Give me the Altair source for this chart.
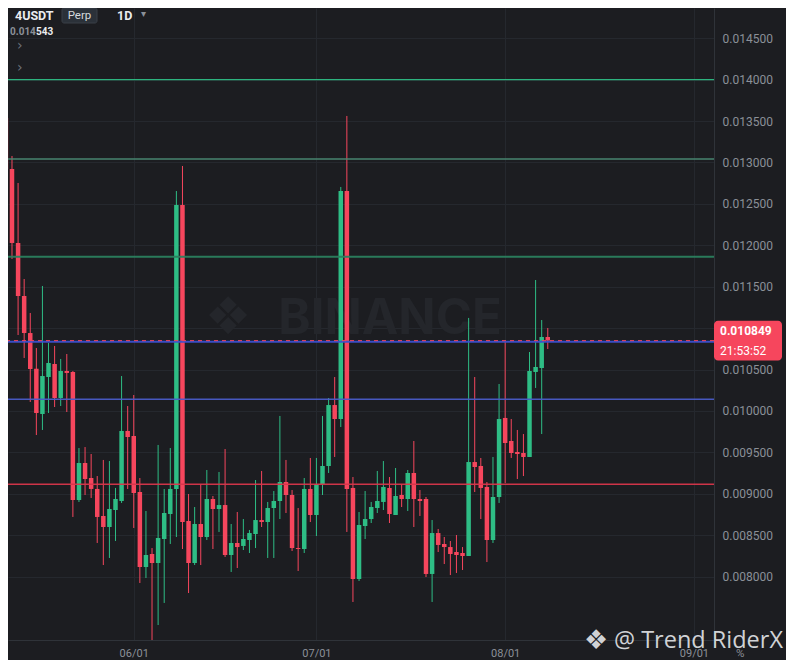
import altair as alt
import pandas as pd

# ---------------- data ----------------
dates = pd.date_range("2025-05-11", "2025-08-08", freq="D").strftime("%Y-%m-%d").tolist()

opens = [0.013537, 0.012921, 0.012028, 0.011388, 0.010941, 0.010510, 0.009964, 0.010410, 0.010567, 0.010157,
         0.010483, 0.010471, 0.008926, 0.009372, 0.009191, 0.009059, 0.008733, 0.008600, 0.008805, 0.008914,
         0.009759, 0.009698, 0.009022, 0.008117, 0.008274, 0.008165, 0.008455, 0.008757, 0.009059, 0.012486,
         0.008672, 0.008165, 0.008636, 0.008479, 0.008938, 0.008817, 0.008865, 0.008262, 0.008407, 0.008371,
         0.008443, 0.008515, 0.008684, 0.008660, 0.008829, 0.008914, 0.009143, 0.008986, 0.008346, 0.008334,
         0.009059, 0.008745, 0.009119, 0.009336, 0.010072, 0.009903, 0.012655, 0.009071, 0.007972, 0.008612,
         0.008696, 0.008829, 0.008902, 0.009071, 0.008745, 0.008986, 0.008938, 0.009252, 0.008938, 0.008938,
         0.008033, 0.008527, 0.008395, 0.008358, 0.008298, 0.008286, 0.008250, 0.009384, 0.009336, 0.009083,
         0.008443, 0.008962, 0.009916, 0.009638, 0.009505, 0.009493, 0.009445, 0.010471, 0.010519, 0.010893]

highs = [0.014031, 0.013078, 0.012752, 0.011593, 0.011183, 0.010760, 0.011509, 0.010821, 0.010785, 0.010628,
         0.010688, 0.010483, 0.009553, 0.009565, 0.009481, 0.009215, 0.009409, 0.009396, 0.009071, 0.010422,
         0.010060, 0.010193, 0.009191, 0.008793, 0.008346, 0.009590, 0.009059, 0.009553, 0.012655, 0.012957,
         0.008998, 0.008841, 0.009119, 0.009288, 0.008974, 0.009264, 0.009541, 0.008636, 0.008781, 0.008696,
         0.008564, 0.009167, 0.009276, 0.008902, 0.009034, 0.009940, 0.009409, 0.009046, 0.008829, 0.009191,
         0.009433, 0.009433, 0.009940, 0.010157, 0.010410, 0.012704, 0.013561, 0.009203, 0.008781, 0.009034,
         0.008902, 0.009276, 0.009396, 0.009203, 0.009312, 0.009119, 0.009288, 0.009638, 0.009046, 0.008962,
         0.008684, 0.008576, 0.008479, 0.008431, 0.008503, 0.008358, 0.011123, 0.010410, 0.009433, 0.009143,
         0.009445, 0.010326, 0.010833, 0.009903, 0.009771, 0.009722, 0.010712, 0.011581, 0.011098, 0.011002]

lows = [0.012402, 0.011835, 0.010917, 0.010640, 0.010109, 0.009710, 0.009771, 0.009976, 0.010048, 0.010060,
        0.009988, 0.008721, 0.008902, 0.008986, 0.008950, 0.008407, 0.008141, 0.008226, 0.008431, 0.008890,
        0.009059, 0.008588, 0.007924, 0.007984, 0.007115, 0.007417, 0.007683, 0.008395, 0.008479, 0.008334,
        0.007803, 0.008141, 0.008141, 0.008443, 0.008334, 0.008540, 0.008238, 0.008057, 0.008105, 0.008322,
        0.008286, 0.008346, 0.008600, 0.008226, 0.008226, 0.008696, 0.008769, 0.008310, 0.008069, 0.008286,
        0.008660, 0.008491, 0.008986, 0.009252, 0.009445, 0.009807, 0.008540, 0.007695, 0.007948, 0.008455,
        0.008648, 0.008769, 0.008805, 0.008648, 0.008745, 0.008841, 0.008793, 0.008600, 0.008733, 0.007996,
        0.007695, 0.008298, 0.008153, 0.008020, 0.008045, 0.008081, 0.008250, 0.009022, 0.008696, 0.008177,
        0.008407, 0.008890, 0.009131, 0.009433, 0.009179, 0.009215, 0.009445, 0.010278, 0.009722, 0.010748]

closes = [0.012921, 0.012028, 0.011388, 0.010941, 0.010507, 0.009976, 0.010422, 0.010579, 0.010157, 0.010483,
          0.010459, 0.008926, 0.009372, 0.009179, 0.009059, 0.008721, 0.008600, 0.008817, 0.008938, 0.009759,
          0.009686, 0.009010, 0.008117, 0.008262, 0.008165, 0.008467, 0.008769, 0.009059, 0.012486, 0.008660,
          0.008165, 0.008636, 0.008479, 0.008938, 0.008817, 0.008865, 0.008262, 0.008407, 0.008358, 0.008455,
          0.008527, 0.008684, 0.008660, 0.008829, 0.008914, 0.009143, 0.008986, 0.008346, 0.008334, 0.009059,
          0.008745, 0.009119, 0.009336, 0.010072, 0.009903, 0.012655, 0.009059, 0.007972, 0.008624, 0.008696,
          0.008841, 0.008914, 0.009083, 0.008757, 0.008974, 0.008938, 0.009252, 0.008938, 0.008914, 0.008033,
          0.008527, 0.008383, 0.008358, 0.008274, 0.008262, 0.008250, 0.009384, 0.009324, 0.009071, 0.008443,
          0.008962, 0.009903, 0.009614, 0.009493, 0.009481, 0.009445, 0.010483, 0.010531, 0.010893, 0.010849]

level_prices = [0.014000, 0.013040, 0.011862, 0.010836, 0.010141, 0.009115]
current_price = 0.010849
current_label = "0.010849"
countdown = "21:53:52"
visible_high = ("0.014", "543")
y_ticks = [0.0080, 0.0085, 0.0090, 0.0095, 0.0100, 0.0105, 0.0110, 0.0115,
           0.0120, 0.0125, 0.0130, 0.0135, 0.0140, 0.0145]
x_tick_months = [6, 7, 8, 9]

# ---------------- styles ----------------
BG = "#1c1d21"
GRID = "#25282e"
AXIS_LINE = "#2f3339"
LABEL = "#8b9098"
GREEN = "#2ebd85"
RED = "#f6465d"
level_colors = ["#2ebd85", "#4a8a74", "#2a7f5e", "#3a4fd0", "#4a5cc8", "#d8364b"]
level_widths = [1.2, 1.5, 2, 2, 1.5, 1.5]

W, H = 706, 632

df = pd.DataFrame({"date": dates, "open": opens, "high": highs, "low": lows, "close": closes})

xscale = alt.Scale(
    type="utc",
    domain=[alt.DateTime(year=2025, month=5, date=12, hours=3, minutes=58, utc=True),
            alt.DateTime(year=2025, month=9, date=3, hours=11, minutes=31, utc=True)],
)
yscale = alt.Scale(domain=[0.007236, 0.014864], nice=False, zero=False)

xaxis = alt.Axis(
    values=[alt.DateTime(year=2025, month=m, date=1, utc=True) for m in x_tick_months],
    format="%m/%d", title=None, grid=True, gridColor=GRID, domainColor=AXIS_LINE,
    ticks=False, labelPadding=7, labelColor=LABEL, labelFontSize=11, labelFont="Roboto",
    labelFlush=False, labelOverlap=False,
)
yaxis = alt.Axis(
    orient="right", values=y_ticks, format=".6f", title=None, grid=True, gridColor=GRID,
    domainColor=AXIS_LINE, ticks=False, labelPadding=8, labelColor=LABEL, labelFontSize=12,
    labelFont="Roboto", labelOverlap=False,
    labelExpr=f"abs(datum.value - {current_price}) < 0.0002 ? '' : datum.label",
)

color = alt.Color("dir:N", scale=alt.Scale(domain=["up", "down"], range=[GREEN, RED]), legend=None)

base = alt.Chart(df).transform_calculate(
    dir="datum.close >= datum.open ? 'up' : 'down'"
).encode(x=alt.X("date:T", scale=xscale, axis=xaxis))

wicks = base.mark_rule(strokeWidth=1, clip=True).encode(
    y=alt.Y("low:Q", scale=yscale, axis=yaxis), y2="high:Q", color=color)
bodies = base.mark_bar(size=4.5, clip=True).encode(y="open:Q", y2="close:Q", color=color)


def text_layer(s, x, y, size, col, weight="normal", align="left", font="Roboto", **kw):
    return alt.Chart(pd.DataFrame({"t": [s]})).mark_text(
        align=align, baseline="middle", fontSize=size, color=col, fontWeight=weight, font=font, **kw
    ).encode(x=alt.value(x), y=alt.value(y), text="t:N")


# watermark behind the candles
wm_logo = text_layer("❖", 220, 310, 52, "#24262b", font="DejaVu Sans", align="center")
wm_text = text_layer("BINANCE", 382, 311, 49, "#24262b", weight="bold", font="Inter", align="center")

levels = []
for p, c, w in zip(level_prices, level_colors, level_widths):
    levels.append(alt.Chart(pd.DataFrame({"p": [p]})).mark_rule(color=c, strokeWidth=w, opacity=0.95, clip=True)
                  .encode(y=alt.Y("p:Q", scale=yscale)))

cur_line = alt.Chart(pd.DataFrame({"p": [current_price]})).mark_rule(
    color=RED, strokeWidth=1, strokeDash=[4, 4], clip=True).encode(y=alt.Y("p:Q", scale=yscale))

box_df = pd.DataFrame({"top": [current_price + 0.00024], "bot": [current_price - 0.00024]})
box = alt.Chart(box_df).mark_rect(color=RED, cornerRadius=4).encode(
    x=alt.value(W), x2=alt.value(W + 68), y=alt.Y("top:Q", scale=yscale), y2="bot:Q")
cur_df = pd.DataFrame({"p": [current_price], "a": [current_label], "b": [countdown]})
box_t1 = alt.Chart(cur_df).mark_text(align="left", baseline="middle", fontSize=12, fontWeight="bold",
                                     color="white", font="Roboto", dy=-9.5).encode(
    x=alt.value(W + 6), y=alt.Y("p:Q", scale=yscale), text="a:N")
box_t2 = alt.Chart(cur_df).mark_text(align="left", baseline="middle", fontSize=12,
                                     color="white", font="Roboto", dy=10.5).encode(
    x=alt.value(W + 6), y=alt.Y("p:Q", scale=yscale), text="b:N")

# header / overlays
perp_box = alt.Chart(pd.DataFrame({"a": [0]})).mark_rect(
    color="#2b3139", stroke="#3a4048", cornerRadius=2).encode(
    x=alt.value(54), x2=alt.value(89), y=alt.value(0), y2=alt.value(15))
title1 = text_layer("4USDT", 7, 7.5, 12.5, "#eaecef", weight="bold")
title2 = text_layer("Perp", 71.5, 7.5, 11.5, "#d5d8dc", align="center")
title3 = text_layer("1D", 109, 7.5, 12.5, "#eaecef", weight="bold")
title4 = text_layer("▾", 133, 6, 10, "#8b9098", font="DejaVu Sans")
hi1 = text_layer(visible_high[0], 2, 24, 10, "#8b9098", weight="bold")
hi2 = text_layer(visible_high[1], 28, 24, 10, "#eaecef", weight="bold")
chev1 = text_layer("›", 9, 38, 14, "#6d727a", font="DejaVu Sans")
chev2 = text_layer("›", 9, 60, 14, "#6d727a", font="DejaVu Sans")

br_logo = text_layer("❖", 588, 633, 27, "#d0d2d5", font="DejaVu Sans", align="center")
br_text = text_layer("@ Trend RiderX", 606, 633, 23.5, "#d0d2d5", font="Open Sans")
pct = text_layer("%", 728, 646, 11.5, "#8b9098")

chart = alt.layer(
    wm_logo, wm_text, wicks, bodies, *levels, cur_line, box, box_t1, box_t2,
    perp_box, title1, title2, title3, title4, hi1, hi2, chev1, chev2, br_logo, br_text, pct,
).properties(
    width=W, height=H, background=BG,
    autosize=alt.AutoSizeParams(type="none"),
    padding={"left": 0, "top": 0, "right": 72, "bottom": 20},
).configure_view(stroke=None)

chart.save("out.html", embed_options={"renderer": "svg", "actions": False})
